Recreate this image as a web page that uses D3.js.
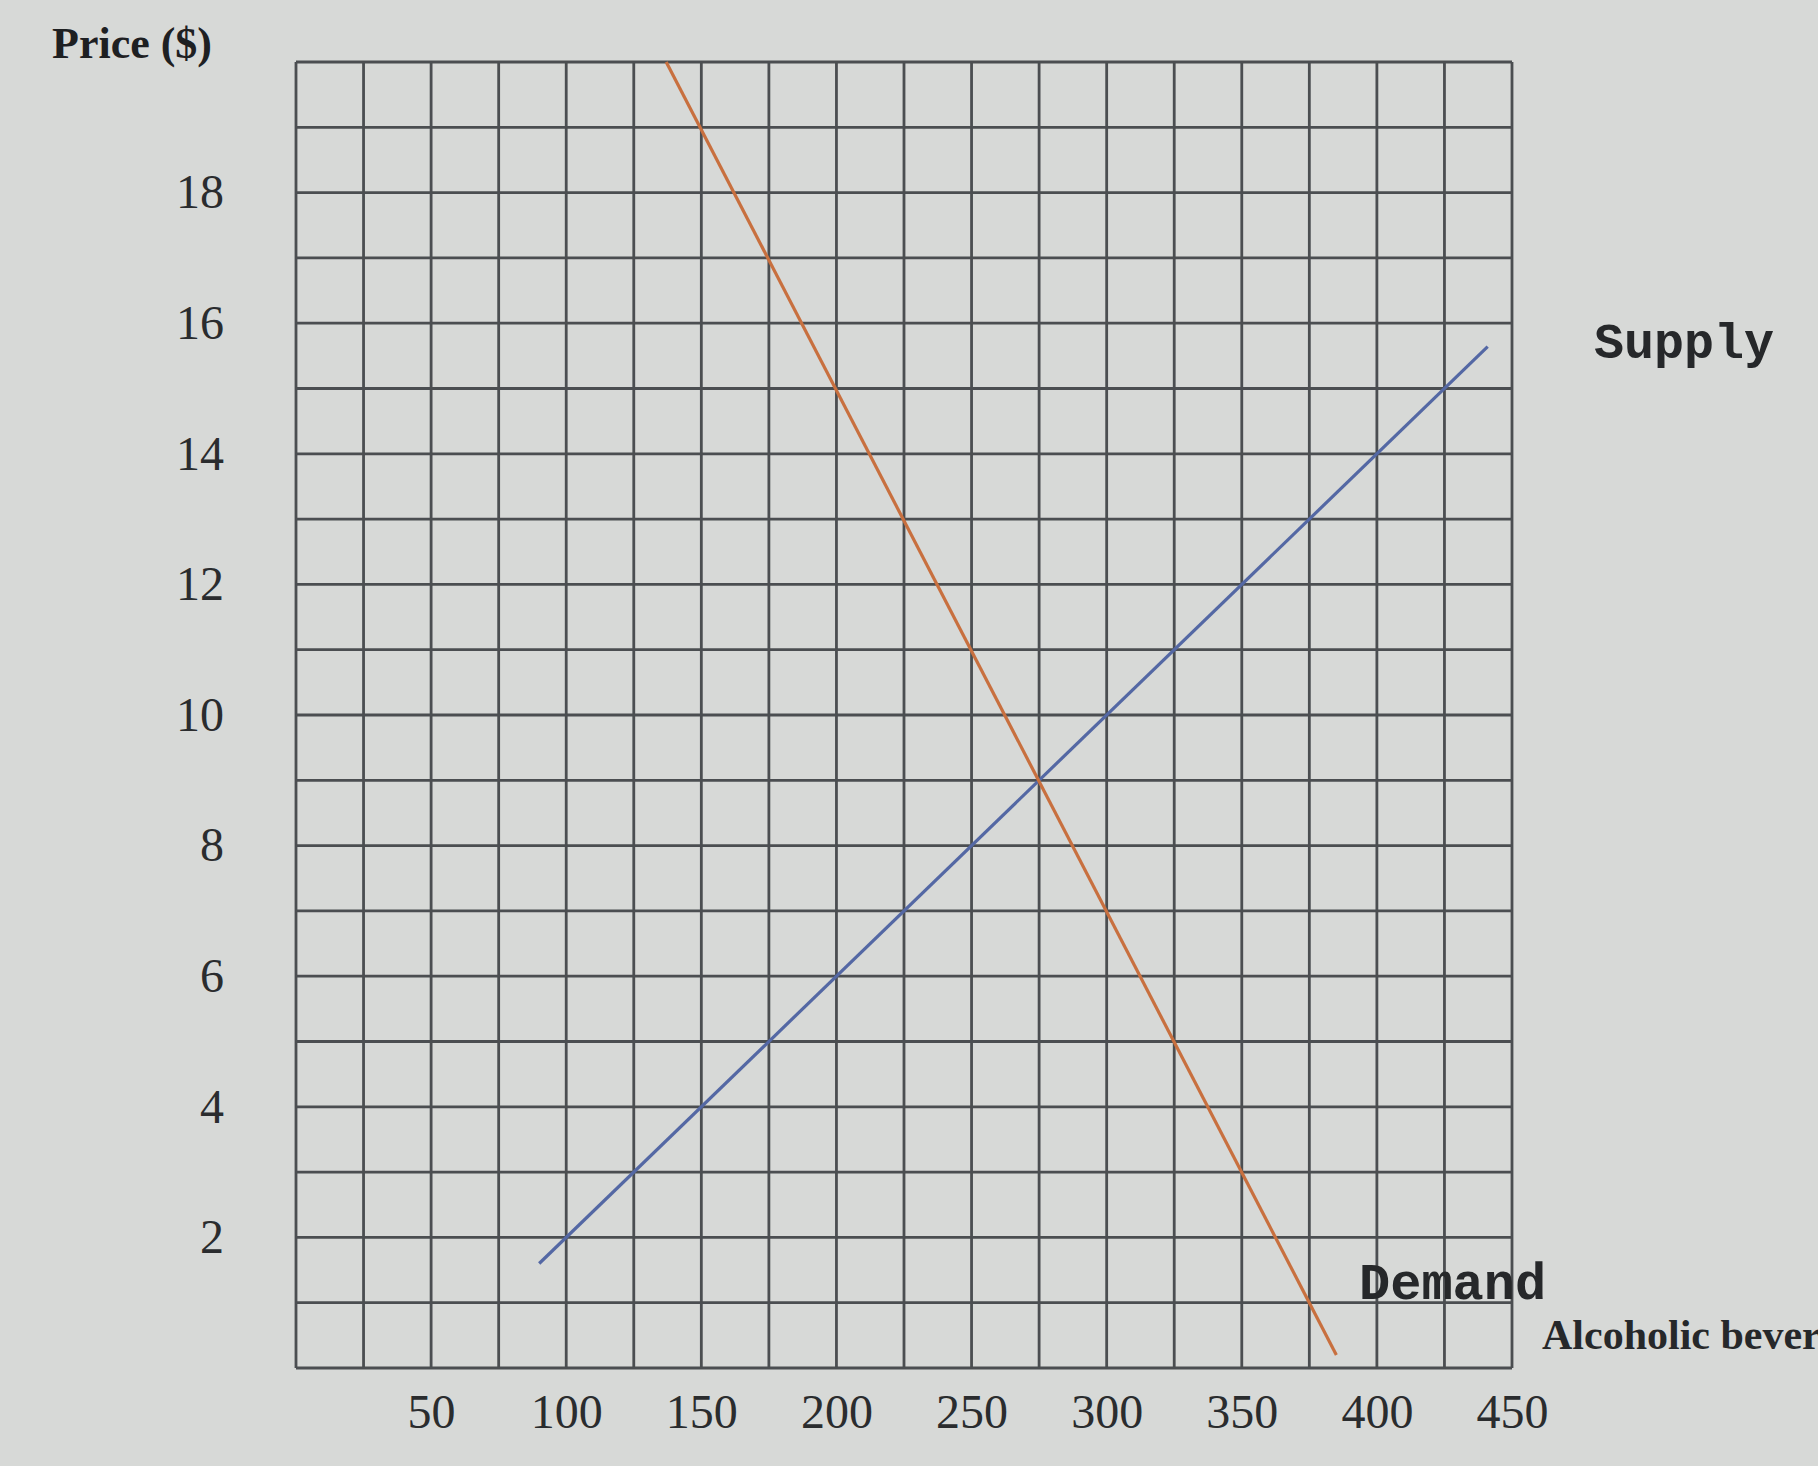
<!DOCTYPE html>
<html>
<head>
<meta charset="utf-8">
<script src="https://cdn.jsdelivr.net/npm/d3@7"></script>
<style>
  body { margin: 0; background: #d7d9d7; overflow: hidden; }
  svg { display: block; }
</style>
</head>
<body>
<div class="chart"></div>
<script>
// quantity / price pairs
const supplyQ = [90, 441];
const supplyP = [1.6, 15.64];
const demandQ = [137, 385];
const demandP = [20, 0.2];

const xTicks = [50, 100, 150, 200, 250, 300, 350, 400, 450];
const yTicks = [2, 4, 6, 8, 10, 12, 14, 16, 18];

const W = 1818, H = 1466;
const margin = { top: 62, left: 296, right: 306, bottom: 98 };
const width = W - margin.left - margin.right;
const height = H - margin.top - margin.bottom;

const x = d3.scaleLinear().domain([0, 450]).range([0, width]);
const y = d3.scaleLinear().domain([0, 20]).range([height, 0]);

const svg = d3.select('.chart').append('svg')
    .attr('width', W)
    .attr('height', H);

svg.append('rect').attr('width', W).attr('height', H).attr('fill', '#d7d9d7');

const g = svg.append('g')
    .attr('transform', `translate(${margin.left},${margin.top})`);

// grid
g.selectAll('.vline')
    .data(d3.range(0, 451, 25))
    .join('line')
    .attr('x1', d => x(d)).attr('x2', d => x(d))
    .attr('y1', 0).attr('y2', height)
    .attr('stroke', '#4b4e51')
    .attr('stroke-width', 2.8);

g.selectAll('.hline')
    .data(d3.range(0, 21, 1))
    .join('line')
    .attr('y1', d => y(d)).attr('y2', d => y(d))
    .attr('x1', 0).attr('x2', width)
    .attr('stroke', '#4b4e51')
    .attr('stroke-width', 2.8);

// tick labels
const xAxis = d3.axisBottom(x).tickValues(xTicks).tickSize(0).tickPadding(26);
const yAxis = d3.axisLeft(y).tickValues(yTicks).tickSize(0).tickPadding(72);

const gx = g.append('g').attr('transform', `translate(0,${height})`).call(xAxis);
const gy = g.append('g').call(yAxis);
[gx, gy].forEach(a => {
    a.select('.domain').remove();
    a.selectAll('text')
        .attr('font-family', '"Liberation Serif", "Times New Roman", serif')
        .attr('font-size', 48)
        .attr('fill', '#2a2c2e');
});

// curves
const line = d3.line().x(d => x(d[0])).y(d => y(d[1]));

g.append('path')
    .datum(d3.zip(supplyQ, supplyP))
    .attr('d', line)
    .attr('fill', 'none')
    .attr('stroke', '#5468a4')
    .attr('stroke-width', 3.2);

g.append('path')
    .datum(d3.zip(demandQ, demandP))
    .attr('d', line)
    .attr('fill', 'none')
    .attr('stroke', '#c8703f')
    .attr('stroke-width', 3.2);

// labels
svg.append('text')
    .attr('x', 52).attr('y', 58)
    .attr('font-family', '"Liberation Serif", "Times New Roman", serif')
    .attr('font-weight', 'bold')
    .attr('font-size', 44)
    .attr('fill', '#1e2022')
    .text('Price ($)');

svg.append('text')
    .attr('x', 1594).attr('y', 358)
    .attr('font-family', '"Liberation Mono", "Courier New", monospace')
    .attr('font-weight', 'bold')
    .attr('font-size', 50)
    .attr('fill', '#26282a')
    .text('Supply');

svg.append('text')
    .attr('x', 1359).attr('y', 1299)
    .attr('font-family', '"Liberation Mono", "Courier New", monospace')
    .attr('font-weight', 'bold')
    .attr('font-size', 52)
    .attr('fill', '#26282a')
    .text('Demand');

// cut at the right edge, as in the photo
svg.append('text')
    .attr('x', 1542).attr('y', 1349)
    .attr('font-family', '"Liberation Serif", "Times New Roman", serif')
    .attr('font-weight', 'bold')
    .attr('font-size', 42)
    .attr('fill', '#26282a')
    .text('Alcoholic beverages');
</script>
</body>
</html>
